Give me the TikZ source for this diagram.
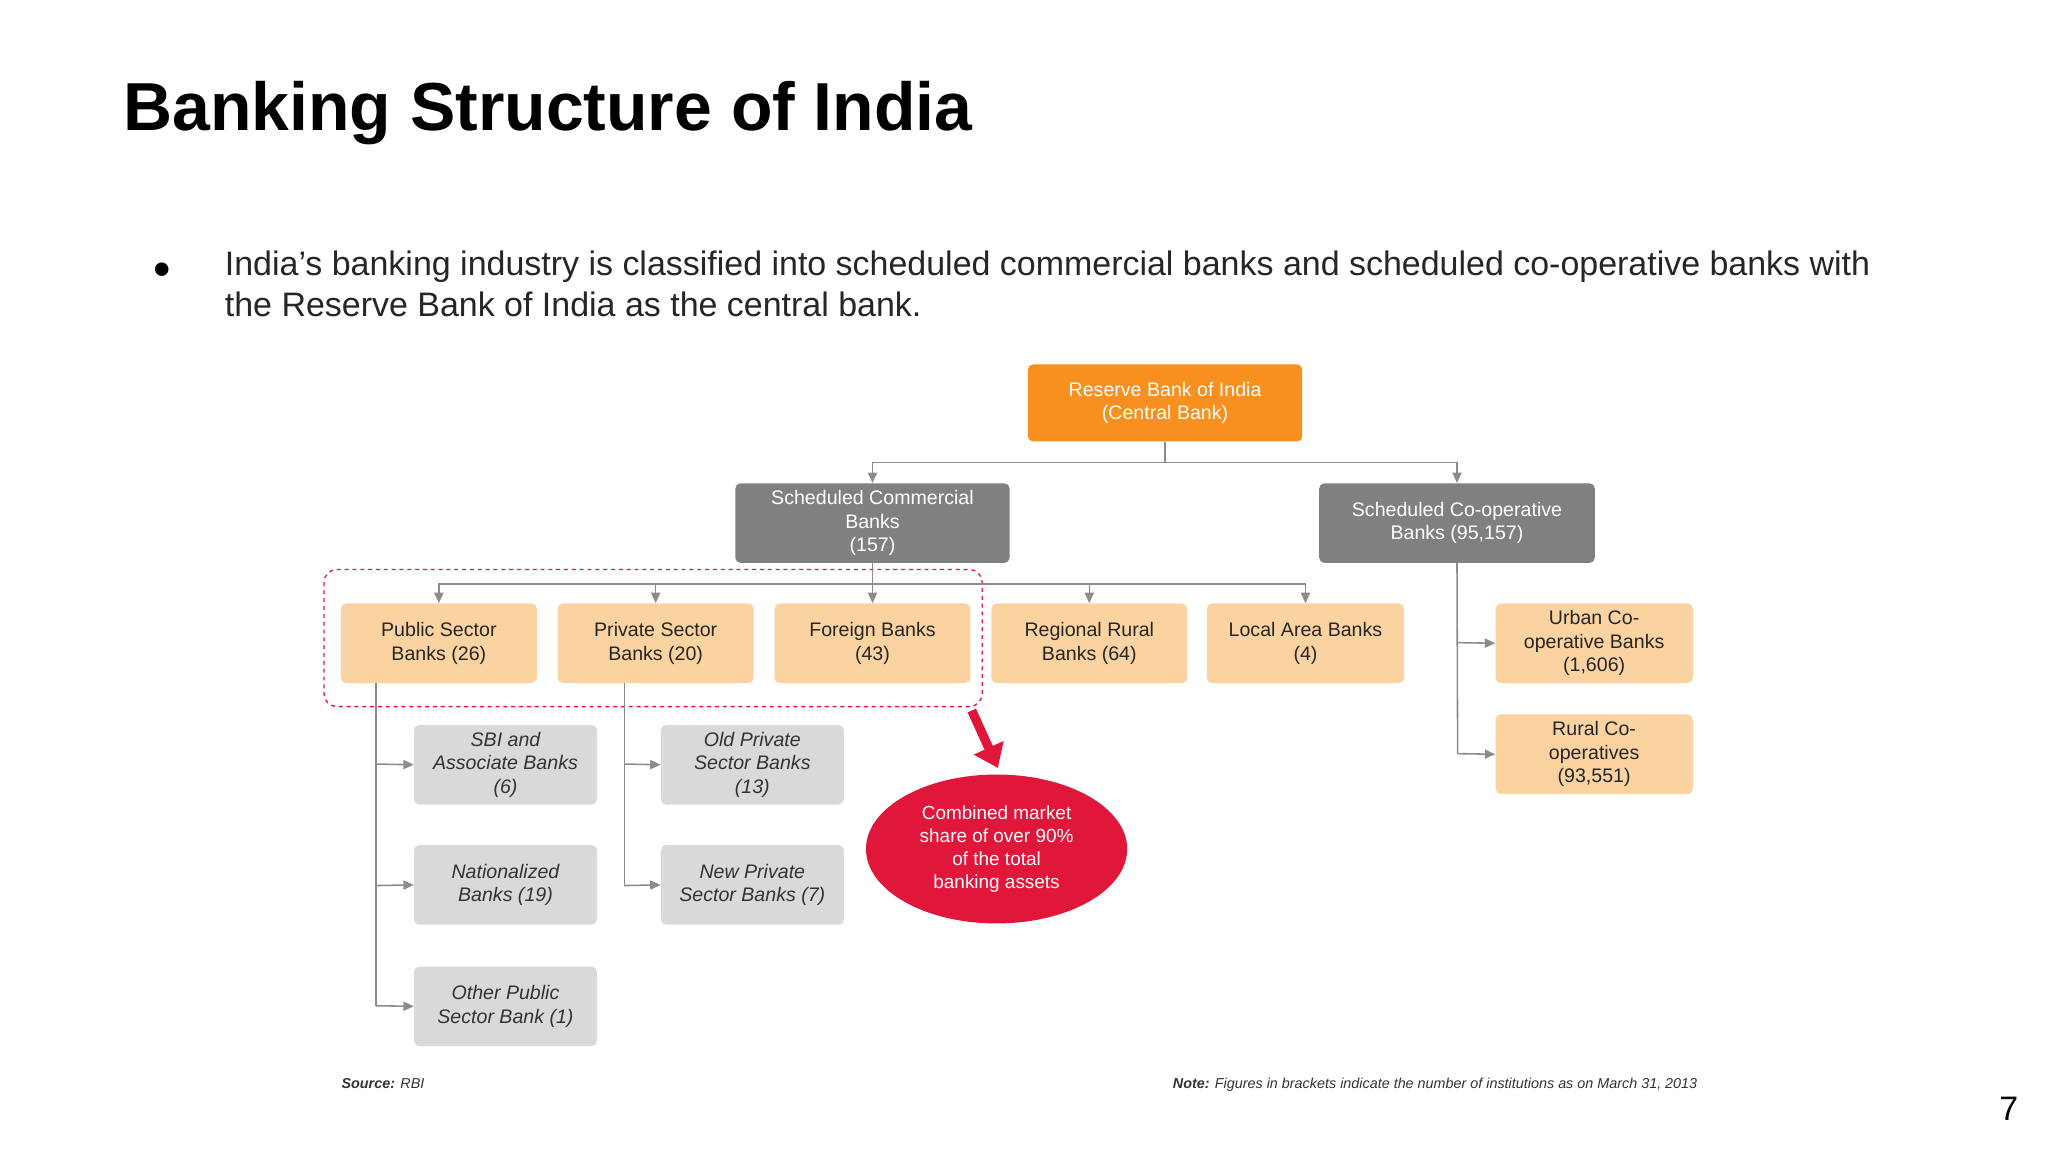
\documentclass[tikz,border=0pt]{standalone}
\usepackage{fontspec}
\setmainfont{Liberation Sans}
\usetikzlibrary{arrows.meta,shapes.geometric}
\definecolor{rbi}{HTML}{F7901E}
\definecolor{peach}{HTML}{FAD3A0}
\definecolor{dgray}{HTML}{808080}
\definecolor{lgray}{HTML}{D9D9D9}
\definecolor{redc}{HTML}{E0163A}
\definecolor{linec}{HTML}{8C8C8C}
\begin{document}
\begin{tikzpicture}[x=1pt,y=-1pt,
  box/.style={rounded corners=4pt,inner sep=0pt,align=center,font=\fontsize{15}{18}\selectfont,text=black!85},
  conn/.style={draw=linec,line width=1.2pt},
  arr/.style={conn,-{Triangle[length=8pt,width=7pt]}}]
\useasboundingbox (0,0) rectangle (1568,882);
\fill[white] (0,0) rectangle (1568,882);
\node[anchor=base west,font=\fontsize{52}{60}\selectfont\bfseries] (title) at (91,100) {Banking Structure of India};
\node[anchor=base,font=\fontsize{24}{28}\selectfont] (bul) at (124,213) {●};
\node[anchor=north west,align=left,inner sep=0pt,font=\fontsize{26}{31}\selectfont,text=black!85] (txt) at (172,192) {India’s banking industry is classified into scheduled commercial banks and scheduled co-operative banks with\\the Reserve Bank of India as the central bank.};
% boxes
\newcommand{\bx}[7]{\node[box,fill=#6,text=#7,minimum width=#4pt-#2pt,minimum height=#5pt-#3pt] (#1) at ({(#2+#4)/2},{(#3+#5)/2})}
\bx{rbi}{787}{279}{997}{338}{rbi}{white}{Reserve Bank of India\\(Central Bank)};
\bx{scb}{563}{370}{773}{431}{dgray}{white}{Scheduled Commercial\\Banks\\(157)};
\bx{scob}{1010}{370}{1221}{431}{dgray}{white}{Scheduled Co-operative\\Banks (95,157)};
\bx{pub}{261}{462}{411}{523}{peach}{black!85}{Public Sector\\Banks (26)};
\bx{pri}{427}{462}{577}{523}{peach}{black!85}{Private Sector\\Banks (20)};
\bx{for}{593}{462}{743}{523}{peach}{black!85}{Foreign Banks\\(43)};
\bx{rrb}{759}{462}{909}{523}{peach}{black!85}{Regional Rural\\Banks (64)};
\bx{lab}{924}{462}{1075}{523}{peach}{black!85}{Local Area Banks\\(4)};
\bx{urb}{1145}{462}{1296}{523}{peach}{black!85}{Urban Co-\\operative Banks\\(1,606)};
\bx{rur}{1145}{547}{1296}{608}{peach}{black!85}{Rural Co-\\operatives\\(93,551)};
\bx{sbi}{317}{555}{457}{616}{lgray}{black!80}{\itshape SBI and\\\itshape Associate Banks\\\itshape (6)};
\bx{nat}{317}{647}{457}{708}{lgray}{black!80}{\itshape Nationalized\\\itshape Banks (19)};
\bx{oth}{317}{740}{457}{801}{lgray}{black!80}{\itshape Other Public\\\itshape Sector Bank (1)};
\bx{old}{506}{555}{646}{616}{lgray}{black!80}{\itshape Old Private\\\itshape Sector Banks\\\itshape (13)};
\bx{new}{506}{647}{646}{708}{lgray}{black!80}{\itshape New Private\\\itshape Sector Banks (7)};
\draw[redc,dashed,line width=1pt,rounded corners=10pt] (248,436) rectangle (752,541);
\node[ellipse,fill=redc,minimum width=200pt,minimum height=114pt,inner sep=0pt,align=center,text=white,font=\fontsize{14.5}{17.5}\selectfont] (ell) at (763,650) {Combined market\\share of over 90\%\\of the total\\banking assets};
\coordinate (ra) at (744,544);
\coordinate (rb) at (764,588);
\draw[redc,line width=7pt,-{Triangle[length=17pt,width=24pt]}] (ra) -- (rb);
% connectors
\coordinate (j1) at (892,354);
\draw[conn] (rbi.south) -- (j1);
\draw[arr] (j1) -| (scb.north);
\draw[arr] (j1) -| (scob.north);
\coordinate (j2) at (668,447);
\draw[conn] (scb.south) -- (j2);
\foreach \n in {pub,pri,for,rrb,lab}{\draw[arr] (j2) -| (\n.north);}
\coordinate (c1) at (1116,577);
\draw[conn] (scob.south) -- (c1);
\draw[arr] (1116,492) -- (urb.west);
\draw[arr] (c1) -- (rur.west);
\coordinate (p1) at (288,770);
\draw[conn] (288,523) -- (p1);
\draw[arr] (288,585) -- (sbi.west);
\draw[arr] (288,678) -- (nat.west);
\draw[arr] (p1) -- (oth.west);
\coordinate (q1) at (478,678);
\draw[conn] (478,523) -- (q1);
\draw[arr] (478,585) -- (old.west);
\draw[arr] (q1) -- (new.west);
\node[anchor=base west,font=\fontsize{11}{13}\selectfont\itshape,text=black!80] (src) at (258,833) {\textbf{Source:} RBI};
\node[anchor=base east,font=\fontsize{11}{13}\selectfont\itshape,text=black!80] (note) at (1303,833) {\textbf{Note:} Figures in brackets indicate the number of institutions as on March 31, 2013};
\node[anchor=base,font=\fontsize{26}{30}\selectfont] (pg) at (1538,858) {7};
\end{tikzpicture}
\end{document}
